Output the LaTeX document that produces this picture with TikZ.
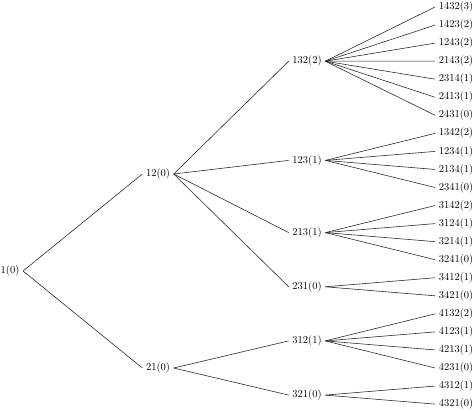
\documentclass[tikz,border=0pt]{standalone}
\begin{document}
\begin{tikzpicture}[x=0.952pt,y=-0.952pt,
  tn/.style={inner sep=3.33pt,font=\fontsize{10}{12}\selectfont},
  edge/.style={draw=black!85,line width=0.55pt}]
\useasboundingbox (0,0) rectangle (474,410);
\node[tn] (n1) at (10,271) {1(0)};
\node[tn] (n12) at (158,174) {12(0)};
\node[tn] (n21) at (158,368) {21(0)};
\node[tn] (n132) at (307,61.2) {132(2)};
\node[tn] (n123) at (307,160.4) {123(1)};
\node[tn] (n213) at (307,232.6) {213(1)};
\node[tn] (n231) at (307,286.8) {231(0)};
\node[tn] (n312) at (307,340.9) {312(1)};
\node[tn] (n321) at (307,395.1) {321(0)};
% leaves
\node[tn] (l1432) at (456,7) {1432(3)};
\node[tn] (l1423) at (456,25.05) {1423(2)};
\node[tn] (l1243) at (456,43.1) {1243(2)};
\node[tn] (l2143) at (456,61.15) {2143(2)};
\node[tn] (l2314) at (456,79.2) {2314(1)};
\node[tn] (l2413) at (456,97.25) {2413(1)};
\node[tn] (l2431) at (456,115.3) {2431(0)};
\node[tn] (l1342) at (456,133.35) {1342(2)};
\node[tn] (l1234) at (456,151.4) {1234(1)};
\node[tn] (l2134) at (456,169.45) {2134(1)};
\node[tn] (l2341) at (456,187.5) {2341(0)};
\node[tn] (l3142) at (456,205.55) {3142(2)};
\node[tn] (l3124) at (456,223.6) {3124(1)};
\node[tn] (l3214) at (456,241.65) {3214(1)};
\node[tn] (l3241) at (456,259.7) {3241(0)};
\node[tn] (l3412) at (456,277.75) {3412(1)};
\node[tn] (l3421) at (456,295.8) {3421(0)};
\node[tn] (l4132) at (456,313.85) {4132(2)};
\node[tn] (l4123) at (456,331.9) {4123(1)};
\node[tn] (l4213) at (456,349.95) {4213(1)};
\node[tn] (l4231) at (456,368) {4231(0)};
\node[tn] (l4312) at (456,386.05) {4312(1)};
\node[tn] (l4321) at (456,404.1) {4321(0)};
% edges
\foreach \a/\b in {n1/n12,n1/n21,
  n12/n132,n12/n123,n12/n213,n12/n231,
  n21/n312,n21/n321,
  n132/l1432,n132/l1423,n132/l1243,n132/l2143,n132/l2314,n132/l2413,n132/l2431,
  n123/l1342,n123/l1234,n123/l2134,n123/l2341,
  n213/l3142,n213/l3124,n213/l3214,n213/l3241,
  n231/l3412,n231/l3421,
  n312/l4132,n312/l4123,n312/l4213,n312/l4231,
  n321/l4312,n321/l4321}
  \draw[edge] (\a.east) -- (\b.west);
\end{tikzpicture}
\end{document}
